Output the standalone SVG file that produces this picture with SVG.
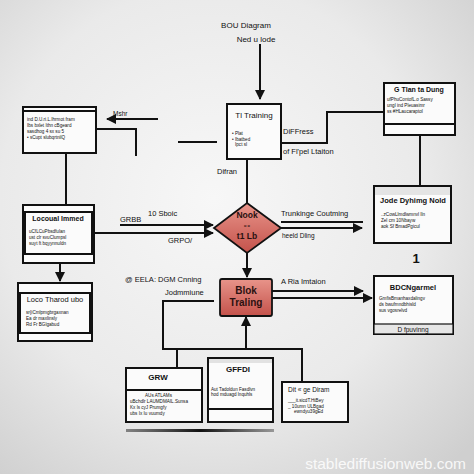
<svg xmlns="http://www.w3.org/2000/svg" width="474" height="474" viewBox="0 0 474 474">
<defs>
<radialGradient id="bg" cx="0.45" cy="0.42" r="0.75">
<stop offset="0" stop-color="#f7f7f7"/>
<stop offset="0.6" stop-color="#eaeaea"/>
<stop offset="1" stop-color="#cfcfcf"/>
</radialGradient>
<linearGradient id="red" x1="0" y1="0" x2="0" y2="1">
<stop offset="0" stop-color="#e8948a"/>
<stop offset="1" stop-color="#c4524b"/>
</linearGradient>
<linearGradient id="shadow" x1="0" y1="0" x2="1" y2="0">
<stop offset="0" stop-color="#222" stop-opacity="0.5"/>
<stop offset="0.5" stop-color="#111"/>
<stop offset="1" stop-color="#222" stop-opacity="0.4"/>
</linearGradient>
<marker id="ah" viewBox="0 0 10 10" refX="9" refY="5" markerWidth="5" markerHeight="5" orient="auto-start-reverse">
<path d="M0,0 L10,5 L0,10 z" fill="#111"/>
</marker>
<style>
.box{fill:#fbfbfb;stroke:#111;stroke-width:2}
.band{fill:#e6e6e6;stroke:#111;stroke-width:1.2}
.ln{fill:none;stroke:#111;stroke-width:2}
.t{font-family:"Liberation Sans",Arial,sans-serif;fill:#111}
.ttl{font-size:8px;font-weight:bold;text-anchor:middle}
.body{font-size:4.6px}
.lbl{font-size:7.5px}
.red{font-size:8px;font-weight:bold;text-anchor:middle;fill:#2a1111}
</style>
</defs>
<rect width="474" height="474" fill="url(#bg)"/>

<g id="connectors">
<line class="ln" x1="260" y1="44" x2="260" y2="99" marker-end="url(#ah)"/>
<polyline class="ln" points="96,129 136,129 136,156"/>
<line class="ln" x1="158" y1="119" x2="107" y2="119" marker-end="url(#ah)"/>
<line class="ln" x1="178" y1="142" x2="217" y2="142"/>
<line class="ln" x1="247" y1="159" x2="247" y2="204"/>
<polyline class="ln" points="281,143 327,143 327,112 384,112"/>
<line class="ln" x1="420" y1="135" x2="420" y2="186"/>
<line class="ln" x1="66" y1="153" x2="66" y2="205"/>
<line class="ln" x1="120" y1="225" x2="213" y2="225" marker-end="url(#ah)"/>
<line class="ln" x1="94" y1="233" x2="213" y2="233" marker-end="url(#ah)"/>
<line class="ln" x1="281" y1="222" x2="363" y2="222"/>
<line class="ln" x1="281" y1="228" x2="362" y2="228" marker-end="url(#ah)"/>
<line class="ln" x1="247" y1="252" x2="247" y2="277" marker-end="url(#ah)"/>
<line class="ln" x1="60" y1="263" x2="60" y2="281" marker-end="url(#ah)"/>
<line class="ln" x1="272" y1="291" x2="363" y2="291" marker-end="url(#ah)"/>
<line class="ln" x1="272" y1="298" x2="372" y2="298" marker-end="url(#ah)"/>
<polyline class="ln" points="214,301 163,301 163,349 302,349 302,382"/>
<line class="ln" x1="246" y1="349" x2="246" y2="317" marker-end="url(#ah)"/>
<line class="ln" x1="177" y1="349" x2="177" y2="368"/>
</g>

<g id="title">
<text class="t" x="246" y="28" font-size="8" text-anchor="middle">BOU Diagram</text>
<text class="t" x="256" y="42" font-size="8" text-anchor="middle">Ned u lode</text>
</g>

<g id="labels">
<text class="t lbl" x="113" y="116" style="font-size:6.5px">Mshr</text>
<text class="t lbl" x="283" y="134">DiFFress</text>
<text class="t lbl" x="283" y="154">of Fl'pel Ltaiton</text>
<text class="t lbl" x="217" y="174">Difran</text>
<text class="t lbl" x="120" y="222">GRBB</text>
<text class="t lbl" x="148" y="216">10 Sboic</text>
<text class="t lbl" x="168" y="243">GRPO/</text>
<text class="t lbl" x="281" y="216">Trunkinge Coutming</text>
<text class="t lbl" x="282" y="238" style="font-size:6.5px">heeld Dling</text>
<text class="t lbl" x="125" y="282">@ EELA: DGM Cnning</text>
<text class="t lbl" x="165" y="295">Jodmmiune</text>
<text class="t lbl" x="281" y="284">A Ria Imtaion</text>
<text class="t" x="416" y="263" font-size="13" font-weight="bold" text-anchor="middle">1</text>
</g>

<g id="node-topleft">
<rect class="box" x="23" y="107" width="73" height="46"/>
<line class="ln" x1="23" y1="111" x2="96" y2="111" stroke-width="1.2"/>
<text class="t body" x="27" y="121">ind D.U.ri.L.Ihrmot fram</text>
<text class="t body" x="27" y="127">Ibs  bxlet  Ithn cBgeard</text>
<text class="t body" x="27" y="133">sasdhog  4 sx su 5</text>
<text class="t body" x="27" y="139">• sCupt slubqrtnilQ</text>
</g>

<g id="node-training">
<rect class="box" x="227" y="104" width="54" height="55"/>
<text class="t ttl" x="254" y="118" style="font-weight:normal">Tl Training</text>
<text class="t body" x="232" y="135">•  Plat</text>
<text class="t body" x="232" y="141">•  Ibatbed</text>
<text class="t body" x="235" y="146">Ipct sl</text>
</g>

<g id="node-gtlan">
<rect class="box" x="384" y="83" width="71" height="52"/>
<line class="ln" x1="384" y1="124" x2="455" y2="124" stroke-width="1.2"/>
<text class="t ttl" x="419" y="92" style="font-size:7px">G Tlan ta Dung</text>
<text class="t body" x="387" y="101">ufPhuContofL.o Sassy</text>
<text class="t body" x="387" y="107">ungl ind Pleuasimr</text>
<text class="t body" x="387" y="113">ss #HLaucaraptol</text>
</g>

<g id="node-jode">
<rect class="box" x="374" y="186" width="77" height="57"/>
<rect x="375" y="187" width="75" height="8" fill="#e4e4e4"/>
<text class="t ttl" x="413" y="203" style="font-size:7.5px">Jode Dyhimg Nold</text>
<text class="t body" x="381" y="216">..zCowLlmdlwmnvl  Iln</text>
<text class="t body" x="381" y="222">Zel  cm  10Nbayw</text>
<text class="t body" x="381" y="228">aok Sf  BmadPgicul</text>
</g>

<g id="node-locoual">
<rect class="box" x="23" y="205" width="71" height="58"/>
<rect class="box" x="25" y="212" width="67" height="42" stroke-width="1.5"/>
<text class="t ttl" x="58" y="221" style="font-size:7px">Locoual Immed</text>
<text class="t body" x="29" y="233">uCfLCuPbsdfulan</text>
<text class="t body" x="29" y="239">ust  clr  svuClumpsl</text>
<text class="t body" x="29" y="245">suyt ft   bqyynnuldn</text>
</g>

<g id="node-diamond">
<polygon points="247,203 281,228 247,253 214,228" fill="url(#red)" stroke="#111" stroke-width="1.8"/>
<text class="t red" x="247" y="218" style="font-size:8.5px">Nook</text>
<text class="t red" x="247" y="227" style="font-size:4px">o o</text>
<text class="t red" x="247" y="239" style="font-size:8.5px">t1 Lb</text>
</g>

<g id="node-loco">
<rect class="box" x="18" y="283" width="74" height="58"/>
<rect class="box" x="20" y="293" width="70" height="40" stroke-width="1.5"/>
<text class="t ttl" x="55" y="302" style="font-size:7.5px;font-weight:normal">Loco Tharod ubo</text>
<text class="t body" x="26" y="314">sr{iCmlpmgbrgaxnan</text>
<text class="t body" x="26" y="320">Ea  dr  maxlinsly</text>
<text class="t body" x="26" y="326">Rd  Fr  BGlgabud</text>
</g>

<g id="node-block">
<rect x="220" y="279" width="52" height="37" rx="2" fill="url(#red)" stroke="#111" stroke-width="1.8"/>
<text class="t red" x="246" y="294" style="font-size:10px">Blok</text>
<text class="t red" x="246" y="306" style="font-size:10px">Traling</text>
</g>

<g id="node-bdcn">
<rect class="box" x="374" y="276" width="79" height="58"/>
<rect class="band" x="374" y="324" width="79" height="10"/>
<text class="t ttl" x="413" y="290" style="font-size:7.5px">BDCNgarmel</text>
<text class="t body" x="379" y="300">GmfisBmanhaxdalingv</text>
<text class="t body" x="379" y="306">ds bwufmndbhisld</text>
<text class="t body" x="379" y="312">sus  vgosrelvd</text>
<text class="t" x="413" y="332" font-size="6.5" text-anchor="middle">D fpuvinng</text>
</g>

<g id="node-grw">
<rect class="box" x="126" y="368" width="76" height="54"/>
<line class="ln" x1="126" y1="390" x2="202" y2="390" stroke-width="1.5"/>
<text class="t ttl" x="158" y="380">GRW</text>
<text class="t body" x="145" y="397">AUs  ATLAMs</text>
<text class="t body" x="130" y="403">uBchdlr LAUMDMAIL.Sunsa</text>
<text class="t body" x="130" y="409">Kx  ls  cyJ Prumgfy</text>
<text class="t body" x="130" y="415">ubs  Ix  Iu  vuumdy</text>
</g>

<g id="node-gffdi">
<rect class="box" x="208" y="358" width="65" height="64"/>
<rect x="209" y="359" width="63" height="4" fill="#e2e2e2"/>
<line class="ln" x1="208" y1="409" x2="273" y2="409" stroke-width="1.5"/>
<text class="t ttl" x="238" y="372">GFFDI</text>
<text class="t body" x="211" y="391">Aut  Tadoldun Fasdlvn</text>
<text class="t body" x="211" y="396">hod   mduagd lnquhls</text>
</g>

<g id="node-dit">
<rect class="box" x="282" y="382" width="66" height="40"/>
<text class="t" x="288" y="392" font-size="6.5">Dit « ge Diram</text>
<text class="t body" x="288" y="402">___it.sicdT.HtBey</text>
<text class="t body" x="288" y="408">_ 10umn  ULBgad</text>
<text class="t body" x="294" y="413">ewndyu39gEd</text>
</g>

<rect x="126" y="429" width="148" height="3" fill="url(#shadow)"/>

<text class="t" x="466" y="469" font-size="15.5" text-anchor="end" style="fill:#ffffff;fill-opacity:0.85">stablediffusionweb.com</text>
</svg>
